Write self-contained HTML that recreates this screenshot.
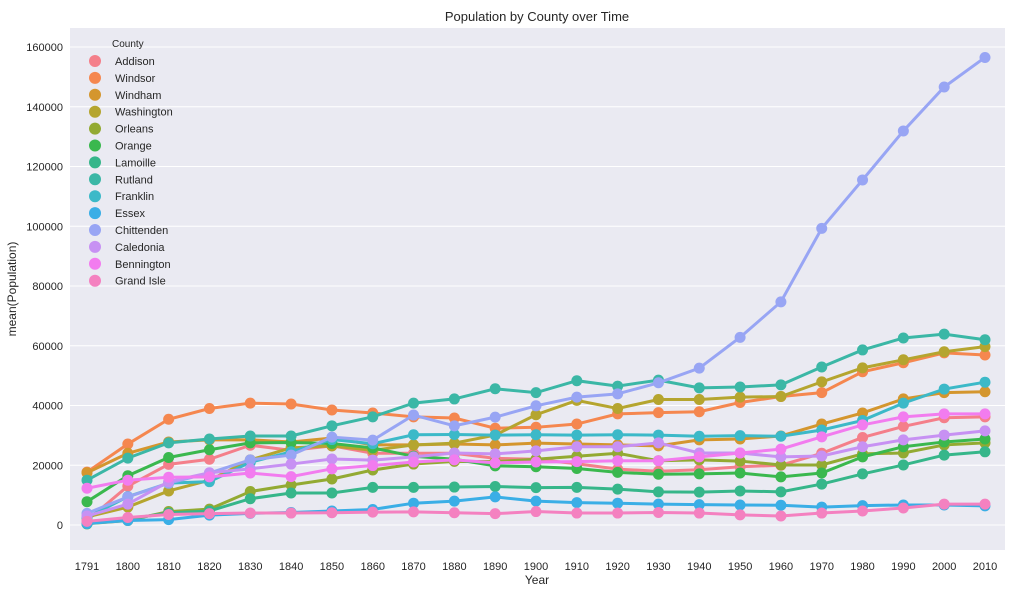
<!DOCTYPE html>
<html><head><meta charset="utf-8">
<style>
body{margin:0;background:#fff;font-family:"Liberation Sans",Arial,sans-serif;}
svg text{font-family:"Liberation Sans",Arial,sans-serif;}
</style></head>
<body>
<svg id="chart" width="1024" height="595">
<rect x="70" y="28" width="935" height="522" fill="#eaeaf2"/>
<g id="grid"></g><g id="series"></g><g id="axes"></g><g id="legend"></g>
<text x="537" y="21" text-anchor="middle" font-size="13" fill="#262626">Population by County over Time</text>
<text x="537" y="584" text-anchor="middle" font-size="12" fill="#262626">Year</text>
<text x="16" y="289" text-anchor="middle" font-size="12" fill="#262626" transform="rotate(-90 16 289)">mean(Population)</text>
</svg>
<script>
const years=["1791","1800","1810","1820","1830","1840","1850","1860","1870","1880","1890","1900","1910","1920","1930","1940","1950","1960","1970","1980","1990","2000","2010"];
const yTicks=[0,20000,40000,60000,80000,100000,120000,140000,160000];
const counties=["Addison","Windsor","Windham","Washington","Orleans","Orange","Lamoille","Rutland","Franklin","Essex","Chittenden","Caledonia","Bennington","Grand Isle"];
const colors=["#f47f8a","#f5874f","#d4962e","#b5a52f","#93aa32","#3ab84e","#36b68a","#3bb7a6","#3cb9c8","#3aaee6","#98a5f4","#c791f3","#f27cef","#f481c0"];
const addison=[1500,13000,20300,22000,26700,25000,26500,24000,24000,24000,22300,22000,20500,18700,18000,18500,19500,20000,24000,29300,33000,35900,36200];
const windsor=[17700,27100,35400,39000,40800,40500,38500,37500,36200,35800,32400,32700,33800,37200,37600,37900,41000,43000,44300,51300,54300,57600,56900];
const windham=[17500,24000,27800,28500,28500,27800,29100,26800,26800,27100,26800,27400,27100,26800,26500,28500,28800,29800,33800,37500,42200,44300,44600];
const washington=[2700,6000,11400,15000,21800,25800,26500,25000,26800,27400,30100,36900,41700,39000,42000,42000,42800,43000,47900,52600,55300,58000,59700];
const orleans=[400,1500,4500,5300,11200,13400,15400,18400,20400,21300,21200,22000,23000,24000,21500,21800,21400,20100,20100,23800,24100,26800,27500];
const orange=[7800,16500,22600,25200,27500,27600,27300,25800,23000,22000,19800,19500,18900,17600,17000,17100,17400,16100,17400,22800,26200,27800,28800];
const lamoille=[400,2000,4000,4700,8800,10700,10700,12600,12600,12700,12900,12500,12600,12000,11100,11000,11400,11100,13700,17100,20100,23400,24500];
const rutland=[15000,22400,27500,28800,29800,29800,33200,36200,40800,42200,45600,44300,48300,46500,48500,45900,46200,46900,52900,58600,62600,63900,62000];
const franklin=[2500,9500,14000,14500,21000,24500,28600,27200,30200,30300,30100,30200,30100,30200,30100,29700,29900,29700,31800,35000,40800,45500,47800];
const essex=[500,1500,1800,3300,3900,4200,4700,5200,7300,8000,9400,8000,7500,7300,7000,6800,6700,6600,6000,6500,6700,6700,6400];
const chittenden=[3900,9400,14000,17400,21800,23400,29400,28400,36800,33200,36100,39900,42800,43900,47600,52500,62800,74700,99300,115500,131900,146600,156500];
const caledonia=[3000,7000,14500,17500,18800,20400,22100,21700,22800,24100,23800,24800,26200,26200,27500,24100,24100,22800,23100,26200,28500,30100,31500];
const bennington=[12300,15000,16000,16100,17400,16200,18800,19900,21100,21800,20800,21100,21200,21500,21500,22800,24100,25400,29500,33500,36200,37200,37200];
const grandIsle=[1200,2500,3500,3800,4000,4000,4100,4300,4400,4100,3800,4500,4000,4000,4200,4000,3400,3000,4000,4700,5700,7000,7000];
const seriesData=[addison,windsor,windham,washington,orleans,orange,lamoille,rutland,franklin,essex,chittenden,caledonia,bennington,grandIsle];

const NS="http://www.w3.org/2000/svg";
const xPos=i=>87+i*(985-87)/(years.length-1);
const yPos=v=>525-v*(525-47)/160000;
function mk(tag,attrs,parent){const e=document.createElementNS(NS,tag);for(const k in attrs)e.setAttribute(k,attrs[k]);parent.appendChild(e);return e;}
const grid=document.getElementById('grid'),axes=document.getElementById('axes'),ser=document.getElementById('series'),leg=document.getElementById('legend');
yTicks.forEach(t=>{
  const l=mk('line',{x1:70,x2:1005,y1:yPos(t),y2:yPos(t),stroke:'#fff','stroke-width':1},grid);
  
  
  const tx=mk('text',{x:63,y:yPos(t)+4,'text-anchor':'end','font-size':11,fill:'#262626'},axes);
  tx.textContent=t;
  
  
});
years.forEach((y,i)=>{
  const tx=mk('text',{x:xPos(i),y:570,'text-anchor':'middle','font-size':11,fill:'#262626'},axes);
  tx.textContent=y;
  
  
});
seriesData.forEach((arr,s)=>{
  const g=mk('g',{},ser);
  
  
  const p=mk('polyline',{points:arr.map((v,i)=>xPos(i)+','+yPos(v)).join(' '),fill:'none',stroke:colors[s],'stroke-width':3},g);
  
  
  arr.forEach((v,i)=>{
    const c=mk('circle',{cx:xPos(i),cy:yPos(v),r:5.5,fill:colors[s]},g);
    
    
  });
});
const lt=mk('text',{x:112,y:47,'font-size':10,fill:'#262626'},leg);
lt.textContent='County';


counties.forEach((c,i)=>{
  const y=61+i*16.9;
  const g=mk('g',{},leg);
  
  
  mk('circle',{cx:95,cy:y,r:6,fill:colors[i]},g);
  const t=mk('text',{x:115,y:y+4,'font-size':11,fill:'#262626'},g);
  t.textContent=c;
});
</script>
</body></html>
